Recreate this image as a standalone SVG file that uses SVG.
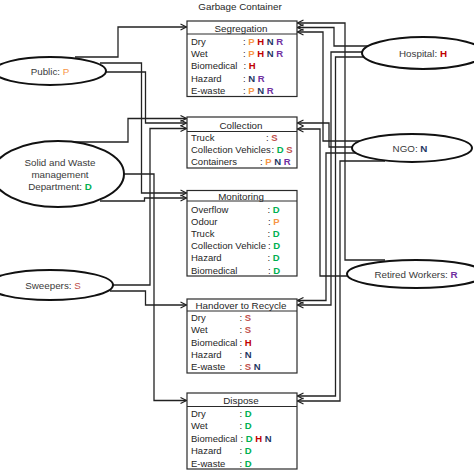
<svg xmlns="http://www.w3.org/2000/svg" width="474" height="474" viewBox="0 0 474 474">
<style>
text{font-family:"Liberation Sans",Arial,sans-serif;fill:#262626}
.t{font-size:9.5px}
.h{font-size:9.8px;text-anchor:middle}
.e{font-size:9.8px;text-anchor:middle;fill:#3a3a3a}
.box{fill:#fff;stroke:#2a2a2a;stroke-width:1.2}
.ell{fill:#fff;stroke:#111;stroke-width:2}
.sep{stroke:#2a2a2a;stroke-width:1}
.c path{fill:none;stroke:#222;stroke-width:1.3;marker-end:url(#a)}
.b{font-weight:bold}
.P{fill:#F79646}.H{fill:#C00000}.N{fill:#1F3864}.R{fill:#7030A0}.D{fill:#00B050}.S{fill:#C0504D}
</style>
<defs>
<marker id="a" markerWidth="8" markerHeight="8" refX="7" refY="4" orient="auto" markerUnits="userSpaceOnUse">
<path d="M1,1 L7,4 L1,7" fill="none" stroke="#222" stroke-width="1.2"/>
</marker>
</defs>
<rect width="474" height="474" fill="#fff"/>
<text class="h" x="240" y="10">Garbage Container</text>

<g class="c" id="connectors">
<path d="M75,57 H118 V27 H186.5"/>
<path d="M100,63 H141.5 V193 H186.5"/>
<path d="M105,72 H145.5 V123 H186.5"/>
<path d="M70,142 H128 V118.5 H186.5"/>
<path d="M100,201 H144.5 V198 H186.5"/>
<path d="M120,174 H154 V400.5 H186.5"/>
<path d="M112,285 H150 V128.5 H186.5"/>
<path d="M110,291 H145.5 V305 H186.5"/>
<path d="M385,260 H345 V23 H297.5"/>
<path d="M370,46 H334 V27.5 H297.5"/>
<path d="M365,141 H323 V32 H297.5"/>
<path d="M360,147 H329 V123 H297.5"/>
<path d="M360,153 H326 V300.5 H297.5"/>
<path d="M385,161 H340 V401 H297.5"/>
<path d="M368,52 H331 V305 H297.5"/>
<path d="M368,57 H335.5 V396 H297.5"/>
<path d="M350,276 H320 V129 H297.5"/>
</g>

<g id="public">
<ellipse class="ell" cx="50" cy="71" rx="56" ry="14"/>
<text class="e" x="50" y="74.5">Public: <tspan class="P">P</tspan></text>
</g>
<g id="swm">
<ellipse class="ell" cx="58" cy="174" rx="66" ry="33"/>
<text class="e" x="60" y="166">Solid and Waste</text>
<text class="e" x="60" y="177.5">management</text>
<text class="e" x="60" y="189.5">Department: <tspan class="D b">D</tspan></text>
</g>
<g id="sweepers">
<ellipse class="ell" cx="50" cy="285" rx="63" ry="15"/>
<text class="e" x="53" y="288.5">Sweepers: <tspan class="S">S</tspan></text>
</g>
<g id="hospital">
<ellipse class="ell" cx="423" cy="53" rx="61" ry="16"/>
<text class="e" x="423" y="56.5">Hospital: <tspan class="H b">H</tspan></text>
</g>
<g id="ngo">
<ellipse class="ell" cx="412" cy="148" rx="60" ry="14"/>
<text class="e" x="410" y="151.5">NGO: <tspan class="N b">N</tspan></text>
</g>
<g id="retired">
<ellipse class="ell" cx="416" cy="274" rx="69" ry="14"/>
<text class="e" x="416" y="277.5">Retired Workers: <tspan class="R b">R</tspan></text>
</g>

<g id="segregation">
<rect class="box" x="187" y="21" width="110" height="75.5"/>
<line class="sep" x1="187" y1="34" x2="297" y2="34"/>
<text class="h" x="241" y="31.5">Segregation</text>
<text class="t" x="191" y="45">Dry</text><text class="t" x="243" y="45">: <tspan class="b P">P</tspan> <tspan class="b H">H</tspan> <tspan class="b N">N</tspan> <tspan class="b R">R</tspan></text>
<text class="t" x="191" y="57">Wet</text><text class="t" x="243" y="57">: <tspan class="b P">P</tspan> <tspan class="b H">H</tspan> <tspan class="b N">N</tspan> <tspan class="b R">R</tspan></text>
<text class="t" x="191" y="69.3">Biomedical</text><text class="t" x="243.5" y="69.3">: <tspan class="b H">H</tspan></text>
<text class="t" x="191" y="81.5">Hazard</text><text class="t" x="243" y="81.5">: <tspan class="b N">N</tspan> <tspan class="b R">R</tspan></text>
<text class="t" x="191" y="93.5">E-waste</text><text class="t" x="243" y="93.5">: <tspan class="b P">P</tspan> <tspan class="b N">N</tspan> <tspan class="b R">R</tspan></text>
</g>

<g id="collection">
<rect class="box" x="187" y="117" width="110" height="51"/>
<line class="sep" x1="187" y1="131.5" x2="297" y2="131.5"/>
<text class="h" x="241" y="128.5">Collection</text>
<text class="t" x="191" y="140.5">Truck</text><text class="t" x="266" y="140.5">: <tspan class="b S">S</tspan></text>
<text class="t" x="191" y="152.7">Collection Vehicles</text><text class="t" x="271.5" y="152.7">: <tspan class="b D">D</tspan> <tspan class="b S">S</tspan></text>
<text class="t" x="191" y="165">Containers</text><text class="t" x="260" y="165">: <tspan class="b P">P</tspan> <tspan class="b N">N</tspan> <tspan class="b R">R</tspan></text>
</g>

<g id="monitoring">
<rect class="box" x="187" y="190.5" width="110" height="85.5"/>
<line class="sep" x1="187" y1="201" x2="297" y2="201"/>
<text class="h" x="241" y="199.8">Monitoring</text>
<text class="t" x="191" y="213">Overflow</text><text class="t" x="267.5" y="213">: <tspan class="b D">D</tspan></text>
<text class="t" x="191" y="225">Odour</text><text class="t" x="268" y="225">: <tspan class="b P">P</tspan></text>
<text class="t" x="191" y="237">Truck</text><text class="t" x="267.5" y="237">: <tspan class="b D">D</tspan></text>
<text class="t" x="191" y="249.2">Collection Vehicle</text><text class="t" x="268" y="249.2">: <tspan class="b D">D</tspan></text>
<text class="t" x="191" y="261.3">Hazard</text><text class="t" x="267.5" y="261.3">: <tspan class="b D">D</tspan></text>
<text class="t" x="191" y="273.5">Biomedical</text><text class="t" x="268" y="273.5">: <tspan class="b D">D</tspan></text>
</g>

<g id="handover">
<rect class="box" x="187" y="299" width="110" height="74"/>
<line class="sep" x1="187" y1="311" x2="297" y2="311"/>
<text class="h" x="241" y="308.5">Handover to Recycle</text>
<text class="t" x="191" y="320.5">Dry</text><text class="t" x="239.5" y="320.5">: <tspan class="b S">S</tspan></text>
<text class="t" x="191" y="332.8">Wet</text><text class="t" x="239.5" y="332.8">: <tspan class="b S">S</tspan></text>
<text class="t" x="191" y="345.5">Biomedical</text><text class="t" x="239.5" y="345.5">: <tspan class="b H">H</tspan></text>
<text class="t" x="191" y="357.8">Hazard</text><text class="t" x="239.5" y="357.8">: <tspan class="b N">N</tspan></text>
<text class="t" x="191" y="370.2">E-waste</text><text class="t" x="239.5" y="370.2">: <tspan class="b S">S</tspan> <tspan class="b N">N</tspan></text>
</g>

<g id="dispose">
<rect class="box" x="187" y="393" width="110" height="76"/>
<line class="sep" x1="187" y1="406.5" x2="297" y2="406.5"/>
<text class="h" x="241" y="404">Dispose</text>
<text class="t" x="191" y="416.8">Dry</text><text class="t" x="239.5" y="416.8">: <tspan class="b D">D</tspan></text>
<text class="t" x="191" y="429.2">Wet</text><text class="t" x="239.5" y="429.2">: <tspan class="b D">D</tspan></text>
<text class="t" x="191" y="441.7">Biomedical</text><text class="t" x="240.5" y="441.7">: <tspan class="b D">D</tspan> <tspan class="b H">H</tspan> <tspan class="b N">N</tspan></text>
<text class="t" x="191" y="454.3">Hazard</text><text class="t" x="239.5" y="454.3">: <tspan class="b D">D</tspan></text>
<text class="t" x="191" y="466.8">E-waste</text><text class="t" x="239.5" y="466.8">: <tspan class="b D">D</tspan></text>
</g>
</svg>
